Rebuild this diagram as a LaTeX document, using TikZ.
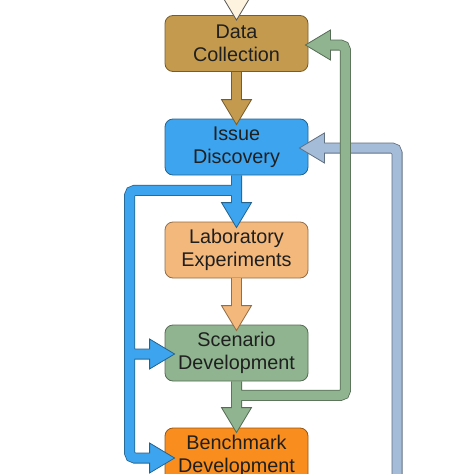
\documentclass[tikz,border=0pt]{standalone}
\usepackage{fontspec}
\setmainfont{Liberation Sans}
\usetikzlibrary{calc}

\definecolor{dcfill}{HTML}{C49B4E}
\definecolor{idfill}{HTML}{3DA5EF}
\definecolor{lefill}{HTML}{F3B87B}
\definecolor{sdfill}{HTML}{8FB48F}
\definecolor{bdfill}{HTML}{F98E1E}
\definecolor{steel}{HTML}{A4BCD8}
\definecolor{cream}{HTML}{FDF3DE}

\tikzset{
  stage/.style={draw=#1!60!black, fill=#1, rounded corners=8pt, line width=0.8pt,
    minimum width=143pt, minimum height=56pt, inner sep=2pt, align=center,
    font=\fontsize{19.8}{23}\selectfont, text=black!88},
  rim/.style={draw=#1!60!black, line width=11pt, rounded corners=5pt},
  core/.style={draw=#1, line width=9.4pt, rounded corners=5pt},
  headtip/.style={fill=#1, draw=#1!60!black, line width=0.8pt, line join=miter},
}

\begin{document}
\begin{tikzpicture}[x=1pt, y=-1pt]
  \useasboundingbox (0,0) rectangle (474,474);
  \clip (0,0) rectangle (474,474);
  \fill[white] (0,0) rectangle (474,474);

  % Stages
  \node[stage=dcfill] (dc) at (236.5,43.5) {Data\\Collection};
  \node[stage=idfill] (id) at (236.5,147) {Issue\\Discovery};
  \node[stage=lefill] (le) at (236.5,250) {Laboratory\\Experiments};
  \node[stage=sdfill] (sd) at (236.5,353) {Scenario\\Development};
  \node[stage=bdfill] (bd) at (236.5,456) {Benchmark\\Development};

  % Tips of the arrows, inside the boxes
  \coordinate (creamDC) at ($(dc.north)+(0,5)$);
  \coordinate (brownID) at ($(id.north)+(0,6)$);
  \coordinate (blueLE) at ($(le.north)+(0,6)$);
  \coordinate (blueSD) at ($(sd.west)+(10,1)$);
  \coordinate (blueBD) at ($(bd.west)+(10,2)$);
  \coordinate (labSD) at ($(sd.north)+(0,6)$);
  \coordinate (greenBD) at ($(bd.north)+(0,5)$);
  \coordinate (greenDC) at ($(dc.east)+(-3,1.5)$);
  \coordinate (steelID) at ($(id.east)+(-9,1)$);
  \coordinate (steelIn) at (397,480);
  \coordinate (blueJ) at ($(id.south)+(0,15)$);
  \coordinate (greenJ) at ($(sd.south)+(0,14)$);

  % Feedback into issue discovery
  \draw[rim=steel] (steelIn) |- ($(steelID)+(23,0)$);
  \filldraw[headtip=steel] (steelID) -- ++(25,-15) -- ++(0,30) -- cycle;
  \draw[core=steel] (steelIn) |- ($(steelID)+(23,0)$);

  % Scenario development to benchmark and back to data collection
  \draw[rim=sdfill] (sd.south) -- ($(greenBD)+(0,-23)$)
    (greenJ) -| ($(greenDC)+(40,0)$) -- ($(greenDC)+(23,0)$);
  \filldraw[headtip=sdfill] (greenBD) -- ++(-15,-25) -- ++(30,0) -- cycle;
  \filldraw[headtip=sdfill] (greenDC) -- ++(25,-15) -- ++(0,30) -- cycle;
  \draw[core=sdfill] (sd.south) -- ($(greenBD)+(0,-23)$)
    (greenJ) -| ($(greenDC)+(40,0)$) -- ($(greenDC)+(23,0)$);

  % Issue discovery to the next stages
  \draw[rim=idfill] (id.south) -- ($(blueLE)+(0,-23)$)
    (blueJ) -| ($(blueBD)+(-45,0)$) -- ($(blueBD)+(-23,0)$)
    ($(blueSD)+(-45,0)$) -- ($(blueSD)+(-23,0)$);
  \filldraw[headtip=idfill] (blueLE) -- ++(-15,-25) -- ++(30,0) -- cycle;
  \filldraw[headtip=idfill] (blueSD) -- ++(-25,-15) -- ++(0,30) -- cycle;
  \filldraw[headtip=idfill] (blueBD) -- ++(-25,-15) -- ++(0,30) -- cycle;
  \draw[core=idfill] (id.south) -- ($(blueLE)+(0,-23)$)
    (blueJ) -| ($(blueBD)+(-45,0)$) -- ($(blueBD)+(-23,0)$)
    ($(blueSD)+(-45,0)$) -- ($(blueSD)+(-23,0)$);

  % Data collection to issue discovery
  \draw[rim=dcfill] (dc.south) -- ($(brownID)+(0,-23)$);
  \filldraw[headtip=dcfill] (brownID) -- ++(-15,-25) -- ++(30,0) -- cycle;
  \draw[core=dcfill] (dc.south) -- ($(brownID)+(0,-23)$);

  % Laboratory experiments to scenario development
  \draw[rim=lefill] (le.south) -- ($(labSD)+(0,-23)$);
  \filldraw[headtip=lefill] (labSD) -- ++(-15,-25) -- ++(30,0) -- cycle;
  \draw[core=lefill] (le.south) -- ($(labSD)+(0,-23)$);

  % Incoming arrow from above
  \filldraw[headtip=cream, draw=black!65] (creamDC) -- ++(-15,-25) -- ++(30,0) -- cycle;
\end{tikzpicture}
\end{document}
